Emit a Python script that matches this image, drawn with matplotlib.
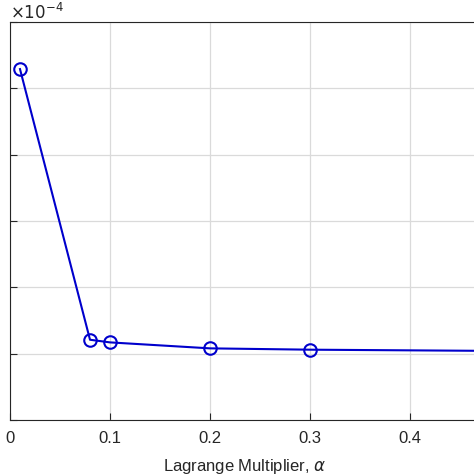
import matplotlib
matplotlib.use("Agg")
import matplotlib.pyplot as plt

# values (y in units of 1e-4)
alpha = [0.01, 0.08, 0.1, 0.2, 0.3, 0.5]
err = [5.29, 1.21, 1.17, 1.08, 1.06, 1.04]
xticks = [0, 0.1, 0.2, 0.3, 0.4]
xtick_labels = ["0", "0.1", "0.2", "0.3", "0.4"]
yticks = [0, 1, 2, 3, 4, 5, 6]

plt.rcParams["font.family"] = ["Liberation Sans", "DejaVu Sans"]

fig = plt.figure(figsize=(4.74, 4.74), dpi=100)
ax = fig.add_axes([10/474, 54/474, 470/474, 398/474])

ax.plot(alpha, err, color="#0000CC", lw=1.5, marker="o", ms=9,
        mfc="none", mec="#0000CC", mew=1.5, clip_on=False, zorder=3)

ax.set_xlim(0, 0.47)
ax.set_ylim(0, 6)
ax.set_xticks(xticks)
ax.set_xticklabels(xtick_labels)
ax.set_yticks(yticks)
ax.set_yticklabels([])
ax.tick_params(direction="in", labelsize=12, colors="#262626", length=5, pad=8)
ax.grid(True, color="#DADADA", lw=0.9)
for s in ax.spines.values():
    s.set_color("#262626")
ax.set_xlabel(r"Lagrange Multiplier, $\alpha$", fontsize=12, color="#262626", labelpad=8)
fig.text(10/474, 1 - 12/474, r"$\times10^{-4}$", fontsize=12, color="#262626", va="center")

fig.savefig("out.png", dpi=100)
